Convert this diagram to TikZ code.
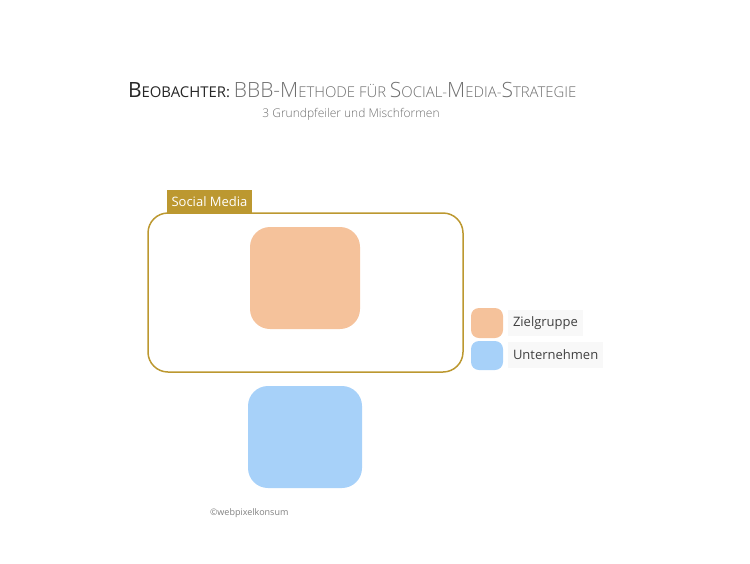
\documentclass[tikz,border=0pt]{standalone}
\usepackage{fontspec}
\setmainfont{Open Sans}
\newfontfamily\lightfont{Open Sans Light}
\definecolor{socialgold}{RGB}{188,152,48}
\definecolor{zielorange}{RGB}{245,194,155}
\definecolor{firmablue}{RGB}{167,209,249}
\definecolor{titlegray}{RGB}{110,110,110}
\definecolor{labelbg}{RGB}{248,248,248}
\tikzstyle{every node} = [inner sep=0pt, outer sep=0pt]
\tikzstyle{pillar} = [rounded corners=20pt, draw=none]
\tikzstyle{legendbox} = [rounded corners=8pt, draw=none]
\tikzstyle{legendtext} = [fill=labelbg, anchor=west, minimum height=26pt, inner xsep=5pt, font=\fontsize{13}{15}\selectfont, text=black!75]
\newcommand{\bigsc}[2]{{\fontsize{21}{24}\selectfont #1}{\fontsize{14.9}{17}\selectfont #2}}

\begin{document}
\begin{tikzpicture}[x=1pt, y=-1pt]
            \useasboundingbox (0, 0) rectangle (750, 563);

            % title
            \node[anchor=base west, text=black!85] (title) at (128, 97)
                {\bigsc{B}{EOBACHTER:\ }\lightfont\color{titlegray}\bigsc{BBB-M}{ETHODE FÜR\ }\bigsc{S}{OCIAL-}\bigsc{M}{EDIA-}\bigsc{S}{TRATEGIE}};
            \node[anchor=base, text=titlegray, font=\lightfont\fontsize{12}{14}\selectfont] (subtitle) at (351, 117)
                {3 Grundpfeiler und Mischformen};

            % social media frame
            \draw[socialgold, line width=1.5pt, rounded corners=20pt] (148, 213) rectangle (463, 372);
            \node[fill=socialgold, anchor=south west, minimum width=85pt, minimum height=23pt,
                text=white, font=\fontsize{13}{15}\selectfont] (socialtab) at (167, 213) {Social Media};

            % pillars
            \fill[zielorange, pillar] (250, 227) rectangle (360, 329);
            \fill[firmablue, pillar] (248, 386) rectangle (362, 488);

            % legend
            \fill[zielorange, legendbox] (471, 308) rectangle (503, 338);
            \node[legendtext] (ziellabel) at (508, 323) {Zielgruppe};
            \fill[firmablue, legendbox] (471, 341) rectangle (503, 370);
            \node[legendtext] (firmalabel) at (508, 355) {Unternehmen};

            % copyright
            \node[anchor=base west, text=black!50, font=\fontsize{9}{11}\selectfont] (copyright) at (210, 515)
                {©webpixelkonsum};
        \end{tikzpicture}
\end{document}
